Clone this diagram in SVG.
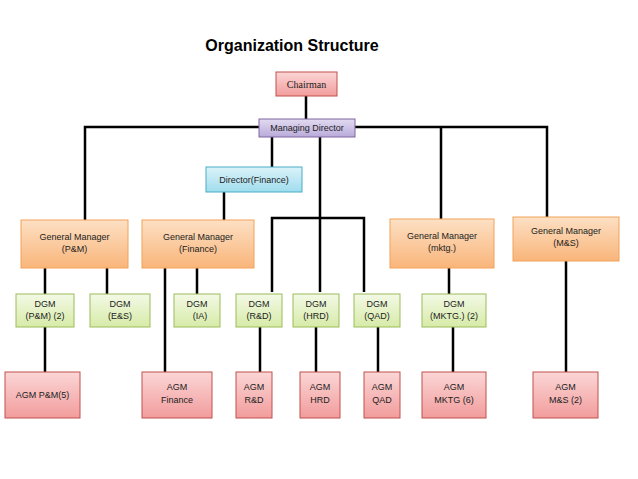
<svg xmlns="http://www.w3.org/2000/svg" width="638" height="479" viewBox="0 0 638 479">
<defs>
<linearGradient id="gO" x1="0" y1="0" x2="0" y2="1"><stop offset="0" stop-color="#fde0c4"/><stop offset="1" stop-color="#f9b57a"/></linearGradient>
<linearGradient id="gG" x1="0" y1="0" x2="0" y2="1"><stop offset="0" stop-color="#f3f9e6"/><stop offset="1" stop-color="#d7eba8"/></linearGradient>
<linearGradient id="gR" x1="0" y1="0" x2="0" y2="1"><stop offset="0" stop-color="#fbd6d6"/><stop offset="1" stop-color="#f29c9c"/></linearGradient>
<linearGradient id="gP" x1="0" y1="0" x2="0" y2="1"><stop offset="0" stop-color="#e2dbf1"/><stop offset="1" stop-color="#b9aada"/></linearGradient>
<linearGradient id="gB" x1="0" y1="0" x2="0" y2="1"><stop offset="0" stop-color="#dcf3f9"/><stop offset="1" stop-color="#9fdced"/></linearGradient>
</defs>
<style>
text{font-family:"Liberation Sans",Arial,sans-serif;font-size:9px;fill:#222;text-anchor:middle}
.o{fill:url(#gO);stroke:#f2a25a}
.g{fill:url(#gG);stroke:#9bbb59}
.r{fill:url(#gR);stroke:#c0504d}
.p{fill:url(#gP);stroke:#8064a2}
.b{fill:url(#gB);stroke:#4bacc6}
.c{fill:none;stroke:#000;stroke-width:2.5}
</style>
<rect width="638" height="479" fill="#fff"/>
<text x="292" y="51" style="font-size:16px;font-weight:bold;fill:#000">Organization Structure</text>
<g id="connectors">
<path class="c" d="M306 96V120M85 221V127H547V218M441 127V220M272 135V167M224 192V220M320 135V292M272 292V218H364V292M45 268V372M107 268V294M165 268V372M197 268V294M260 327V372M316 327V372M378 327V372M453 327V372M449 268V294M566 261V372"/>
</g>
<g id="chairman"><rect class="r" x="276" y="72" width="61" height="24"/><text x="306.5" y="88" style="font-family:'Liberation Serif',serif;font-size:10px">Chairman</text></g>
<g id="md"><rect class="p" x="259" y="119" width="96" height="18"/><text x="307" y="131">Managing Director</text></g>
<g id="dirfin"><rect class="b" x="206" y="167" width="96" height="25"/><text x="254" y="183">Director(Finance)</text></g>
<g id="gm-pm"><rect class="o" x="21" y="220" width="107" height="48"/><text x="74.5" y="240">General Manager</text><text x="74.5" y="252">(P&amp;M)</text></g>
<g id="gm-fin"><rect class="o" x="142" y="220" width="112" height="48"/><text x="198" y="240">General Manager</text><text x="198" y="252">(Finance)</text></g>
<g id="gm-mktg"><rect class="o" x="390" y="219" width="104" height="49"/><text x="442" y="239">General Manager</text><text x="442" y="251">(mktg.)</text></g>
<g id="gm-ms"><rect class="o" x="513" y="217" width="106" height="44"/><text x="566" y="234">General Manager</text><text x="566" y="246">(M&amp;S)</text></g>
<g id="dgm-pm"><rect class="g" x="16" y="294" width="58" height="33"/><text x="45" y="307">DGM</text><text x="45" y="319">(P&amp;M) (2)</text></g>
<g id="dgm-es"><rect class="g" x="90" y="294" width="60" height="33"/><text x="120" y="307">DGM</text><text x="120" y="319">(E&amp;S)</text></g>
<g id="dgm-ia"><rect class="g" x="174" y="294" width="46" height="33"/><text x="197" y="307">DGM</text><text x="200" y="319">(IA)</text></g>
<g id="dgm-rd"><rect class="g" x="236" y="294" width="46" height="33"/><text x="259" y="307">DGM</text><text x="259" y="319">(R&amp;D)</text></g>
<g id="dgm-hrd"><rect class="g" x="293" y="294" width="46" height="33"/><text x="316" y="307">DGM</text><text x="316" y="319">(HRD)</text></g>
<g id="dgm-qad"><rect class="g" x="354" y="294" width="46" height="33"/><text x="377" y="307">DGM</text><text x="377" y="319">(QAD)</text></g>
<g id="dgm-mktg"><rect class="g" x="422" y="294" width="64" height="33"/><text x="454" y="307">DGM</text><text x="454" y="319">(MKTG.) (2)</text></g>
<g id="agm-pm"><rect class="r" x="5" y="372" width="75" height="46"/><text x="42.5" y="398">AGM P&amp;M(5)</text></g>
<g id="agm-fin"><rect class="r" x="142" y="372" width="70" height="46"/><text x="177" y="390">AGM</text><text x="177" y="403">Finance</text></g>
<g id="agm-rd"><rect class="r" x="236" y="372" width="36" height="46"/><text x="254" y="390">AGM</text><text x="254" y="403">R&amp;D</text></g>
<g id="agm-hrd"><rect class="r" x="300" y="372" width="40" height="46"/><text x="320" y="390">AGM</text><text x="320" y="403">HRD</text></g>
<g id="agm-qad"><rect class="r" x="364" y="372" width="36" height="46"/><text x="382" y="390">AGM</text><text x="382" y="403">QAD</text></g>
<g id="agm-mktg"><rect class="r" x="422" y="372" width="64" height="46"/><text x="454" y="390">AGM</text><text x="454" y="403">MKTG (6)</text></g>
<g id="agm-ms"><rect class="r" x="533" y="372" width="65" height="46"/><text x="565.5" y="390">AGM</text><text x="565.5" y="403">M&amp;S (2)</text></g>
</svg>
